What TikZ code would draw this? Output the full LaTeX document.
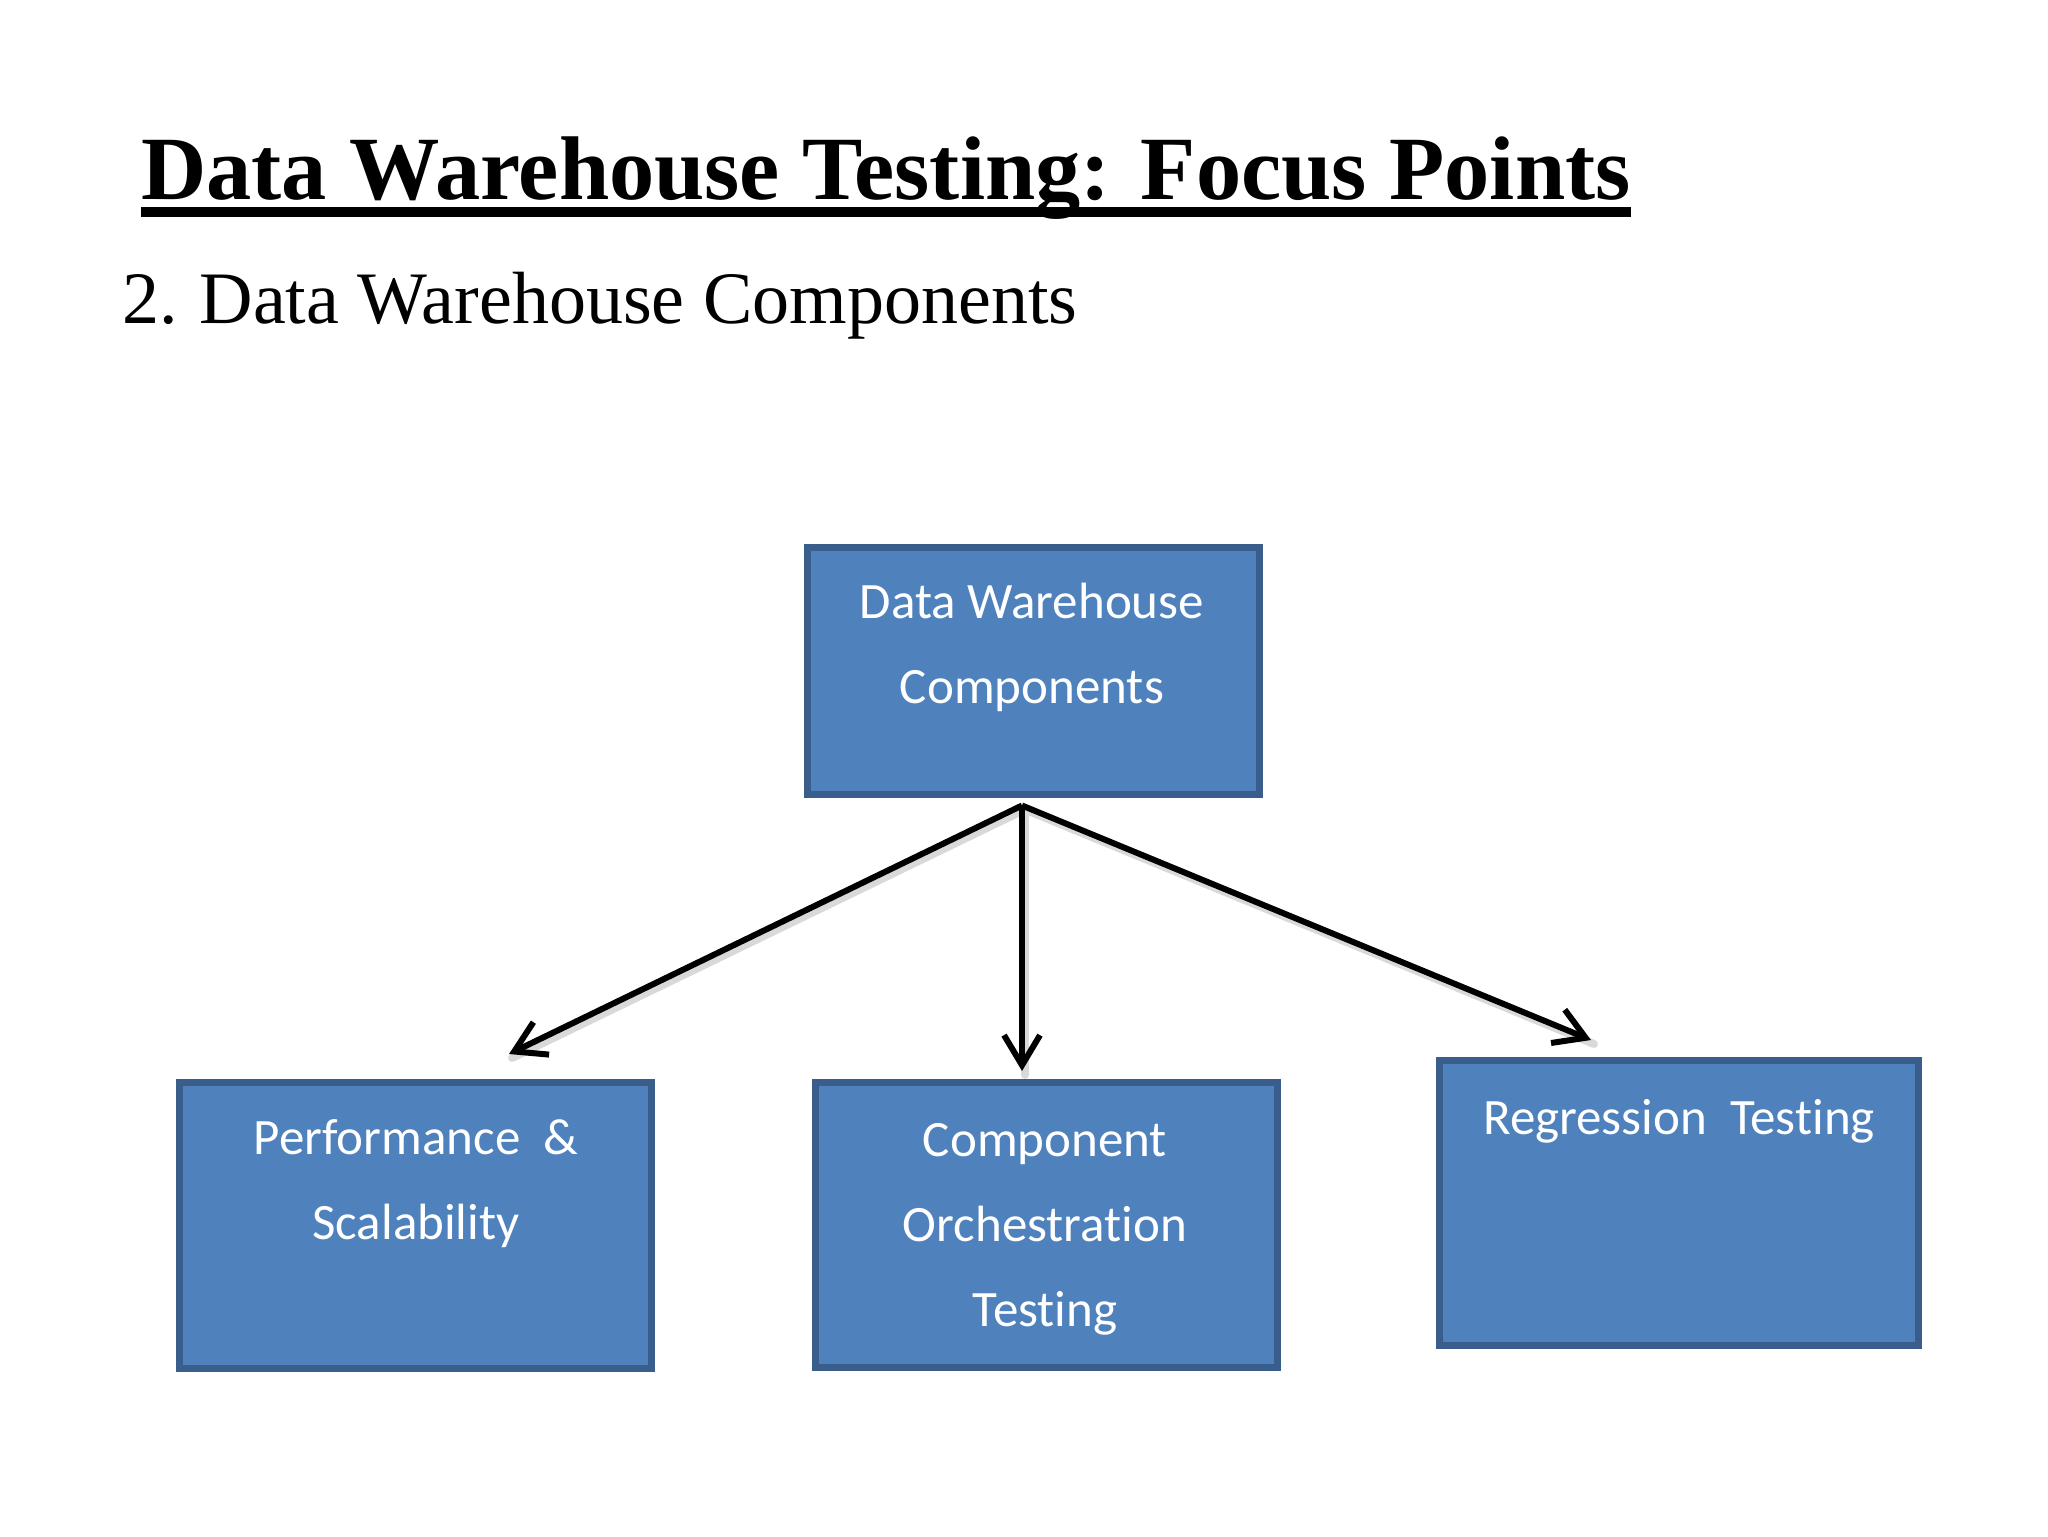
\documentclass[tikz,border=0pt]{standalone}
\usepackage{fontspec}
\setmainfont{Liberation Serif}
\newfontfamily\boxfont[Ligatures=NoCommon]{Carlito}
\usetikzlibrary{arrows.meta,calc}
\definecolor{boxfill}{HTML}{4F81BD}
\definecolor{boxline}{HTML}{3A5E8C}
\begin{document}
\begin{tikzpicture}[x=0.5pt,y=-0.5pt,
  box/.style={rectangle, draw=boxline, fill=boxfill, line width=3.5pt, inner sep=0pt},
  lbl/.style={text=white, font=\boxfont\fontsize{25.5}{30}\selectfont, inner sep=0pt, anchor=base},
  conn/.style={line width=3pt, -{Straight Barb[length=15pt,width=18pt]}},
  shadowconn/.style={line width=4pt, black!15, line cap=round}
]
\useasboundingbox (0,0) rectangle (2048,1536);
% title
\node[anchor=base west, inner sep=0pt, font=\bfseries\fontsize{45.2}{50}\selectfont] (title) at (141,199) {Data Warehouse Testing: Focus Points};
\draw[line width=5pt] ($(title.base west)+(0,13)$) -- ($(title.base east)+(0,13)$);
\node[anchor=base west, inner sep=0pt, font=\fontsize{37}{40}\selectfont] (sub) at (122,323) {2.\hspace{-0.04em} Data Warehouse Components};
% boxes
\node[box, minimum width=226pt, minimum height=123.5pt] (top) at (1033.5,671) {};
\node[box, minimum width=236pt, minimum height=143pt] (left) at (415.5,1225.5) {};
\node[box, minimum width=231pt, minimum height=142.5pt] (mid) at (1046.5,1225) {};
\node[box, minimum width=239.5pt, minimum height=142.5pt] (right) at (1679,1203) {};
% labels
\node[lbl] (t1) at (1032,618) {Data Warehouse};
\node[lbl] (t2) at (1032,703) {Components};
\node[lbl] (l1) at (416,1154) {Performance \ \&};
\node[lbl] (l2) at (416,1239) {Scalability};
\node[lbl] (m1) at (1045,1156) {Component};
\node[lbl] (m2) at (1045,1241) {Orchestration};
\node[lbl] (m3) at (1045,1326) {Testing};
\node[lbl] (r1) at (1679,1134) {Regression \ Testing};
% connectors
\coordinate (apex) at ($(top.south)+(-11.5,7.5)$);
\coordinate (tipL) at ($(left.north)+(93.5,-25)$);
\coordinate (tipM) at ($(mid.north)+(-24.5,-8)$);
\coordinate (tipR) at ($(right.north)+(-88,-17)$);
\draw[shadowconn] ($(apex)+(3,4)$) -- ($(tipL)+(3,4)$);
\draw[shadowconn] ($(apex)+(3,4)$) -- ($(tipM)+(3,4)$);
\draw[shadowconn] ($(apex)+(3,4)$) -- ($(tipR)+(3,4)$);
\draw[conn] (apex) -- (tipL);
\draw[conn] (apex) -- (tipM);
\draw[conn] (apex) -- (tipR);
\end{tikzpicture}
\end{document}
